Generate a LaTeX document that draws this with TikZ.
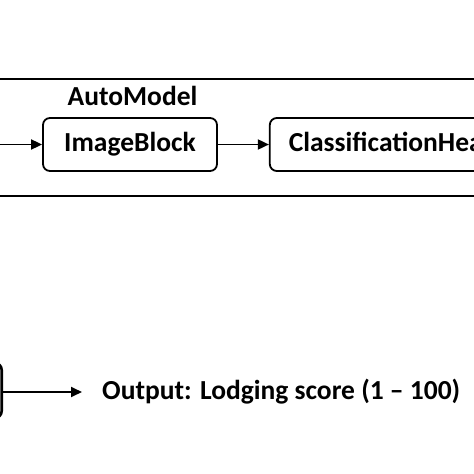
\documentclass[tikz,border=0pt]{standalone}
\usepackage{fontspec}
\setmainfont{Carlito}
\usetikzlibrary{positioning,arrows.meta}
\tikzset{
  block/.style={draw, line width=1.8pt, rounded corners=7pt, minimum height=53pt, inner xsep=19pt, text height=19pt, text depth=6pt},
  flow/.style={-{Triangle[length=11pt,width=10pt]}, line width=1.8pt},
}
\begin{document}
\begin{tikzpicture}[x=1pt,y=-1pt,font=\fontsize{27.5}{32}\selectfont\bfseries]
  \useasboundingbox (0,0) rectangle (474,474);
  \node[draw, line width=2.4pt, minimum width=520pt, minimum height=117pt] (frame) at (237,137.25) {};
  \node[block, minimum width=174pt] (imgblock) at (130,144.5) {ImageBlock};
  \node[block, right=51pt of imgblock] (clshead) {ClassificationHead};
  \node (automodel) [above=8pt of imgblock, xshift=2.5pt] {AutoModel};
  \coordinate (feed) at (-10,144.5);
  \draw[flow] (feed) -- (imgblock);
  \draw[flow] (imgblock) -- (clshead);
  \node[block, line width=2.6pt, minimum width=150pt, minimum height=55pt, anchor=east] (lastblock) at (3,390.5) {};
  \node[anchor=west, inner xsep=20pt] (output) at (82,392) {Output: Lodging score (1 -- 100)};
  \draw[flow] (lastblock.east |- output.west) -- (output.west);
\end{tikzpicture}
\end{document}
